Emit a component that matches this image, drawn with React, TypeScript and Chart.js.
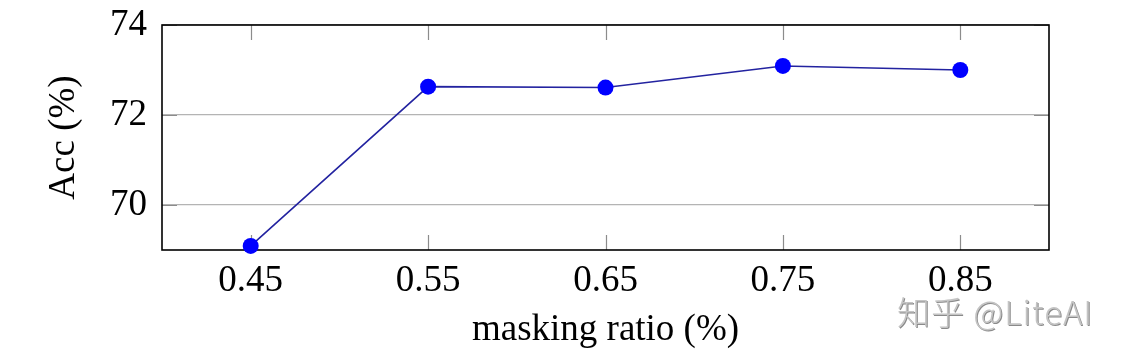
import React, { useEffect, useRef } from "react";
import { Chart, registerables } from "chart.js";

Chart.register(...registerables);

const maskingRatios = [0.45, 0.55, 0.65, 0.75, 0.85];
const accValues = [69.09, 72.63, 72.61, 73.09, 73.0];
const xTickValues = [0.45, 0.55, 0.65, 0.75, 0.85];
const xTickLabels = ["0.45", "0.55", "0.65", "0.75", "0.85"];
const yTickValues = [70, 72, 74];
const yTickLabels = ["70", "72", "74"];

const SERIF = "'Liberation Serif', 'Times New Roman', serif";

const framePlugin = {
  id: "pgfFrame",
  beforeDatasetsDraw(chart: any) {
    const { ctx, chartArea } = chart;
    const { left, right, top, bottom } = chartArea;
    const xs = chart.scales.x;
    const ys = chart.scales.y;
    const tl = 15;
    ctx.save();
    ctx.strokeStyle = "#8c8c8c";
    ctx.lineWidth = 1.2;
    ctx.beginPath();
    xTickValues.forEach((v) => {
      const px = Math.round(xs.getPixelForValue(v)) + 0.5;
      ctx.moveTo(px, top);
      ctx.lineTo(px, top + tl);
      ctx.moveTo(px, bottom);
      ctx.lineTo(px, bottom - tl);
    });
    yTickValues.forEach((v) => {
      const py = Math.round(ys.getPixelForValue(v)) + 0.5;
      ctx.moveTo(left, py);
      ctx.lineTo(left + tl, py);
      ctx.moveTo(right, py);
      ctx.lineTo(right - tl, py);
    });
    ctx.stroke();
    ctx.strokeStyle = "#000000";
    ctx.lineWidth = 1.6;
    ctx.strokeRect(left, top, right - left, bottom - top);
    ctx.restore();
  },
};

export default function App() {
  const canvasRef = useRef<HTMLCanvasElement | null>(null);

  useEffect(() => {
    if (!canvasRef.current) return;
    const chart = new Chart(canvasRef.current, {
      type: "line",
      data: {
        datasets: [
          {
            label: "Acc",
            data: maskingRatios.map((x, i) => ({ x, y: accValues[i] })),
            borderColor: "#2323a0",
            borderWidth: 1.6,
            backgroundColor: "#0000ff",
            pointBackgroundColor: "#0000ff",
            pointBorderColor: "#0000ff",
            pointRadius: 8,
            pointBorderWidth: 0,
            tension: 0,
            clip: false as any,
          },
        ],
      },
      options: {
        animation: false,
        responsive: false,
        devicePixelRatio: 1,
        layout: { padding: { top: 25, right: 73, bottom: 0, left: 0 } },
        plugins: {
          legend: { display: false },
          tooltip: { enabled: false },
        },
        scales: {
          x: {
            type: "linear",
            position: "bottom",
            min: 0.4,
            max: 0.9,
            afterBuildTicks: (s: any) => {
              s.ticks = xTickValues.map((v) => ({ value: v }));
            },
            afterFit: (s: any) => {
              s.height = 109;
              s.paddingLeft = 0;
              s.paddingRight = 0;
            },
            grid: { display: false, drawTicks: false },
            border: { display: false },
            ticks: {
              autoSkip: false,
              maxRotation: 0,
              padding: 9,
              color: "#000",
              font: { family: SERIF, size: 37 },
              callback: (v: any) => {
                const i = xTickValues.findIndex((t) => Math.abs(t - v) < 1e-9);
                return i >= 0 ? xTickLabels[i] : "";
              },
            },
            title: {
              display: true,
              text: "masking ratio (%)",
              color: "#000",
              font: { family: SERIF, size: 37, lineHeight: 1 },
              padding: { top: 0, bottom: 10 },
            },
          },
          y: {
            type: "linear",
            min: 69,
            max: 74,
            afterBuildTicks: (s: any) => {
              s.ticks = yTickValues.map((v) => ({ value: v }));
            },
            afterFit: (s: any) => {
              s.width = 162;
              s.paddingTop = 0;
              s.paddingBottom = 0;
            },
            grid: { color: "#b4b4b4", lineWidth: 1.2, drawTicks: false },
            border: { display: false },
            ticks: {
              padding: 15,
              color: "#000",
              font: { family: SERIF, size: 37 },
              callback: (v: any) => {
                const i = yTickValues.indexOf(v);
                return i >= 0 ? yTickLabels[i] : "";
              },
            },
            title: {
              display: true,
              text: "Acc (%)",
              color: "#000",
              font: { family: SERIF, size: 37, lineHeight: 1 },
              padding: { top: 46, bottom: 0 },
            },
          },
        },
      },
      plugins: [framePlugin],
    });
    return () => chart.destroy();
  }, []);

  return (
    <div
      style={{
        position: "fixed",
        left: 0,
        top: 0,
        width: 1122,
        height: 359,
        background: "#fff",
        overflow: "hidden",
      }}
    >
      <canvas ref={canvasRef} width={1122} height={359} style={{ display: "block" }} />
      <div
        style={{
          position: "absolute",
          left: 897,
          top: 290,
          fontFamily: "'Noto Sans CJK SC', 'Noto Sans', sans-serif",
          fontSize: 33,
          letterSpacing: "1px",
          lineHeight: "42px",
          color: "#c4c4c4",
          textShadow: "1px 1px 0 #8a8a8a",
          whiteSpace: "nowrap",
          fontWeight: 300,
        }}
      >
        知乎 @LiteAI
      </div>
    </div>
  );
}
